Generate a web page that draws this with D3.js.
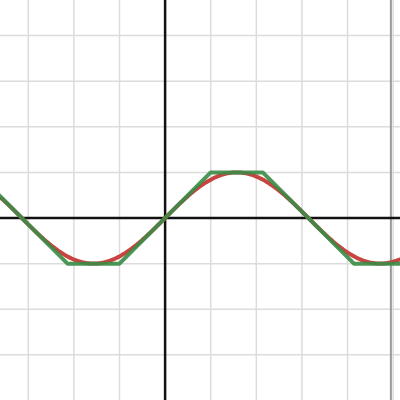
<!DOCTYPE html>
<html><head><meta charset="utf-8">
<script src="https://cdn.jsdelivr.net/npm/d3@7"></script>
<style>body{margin:0;background:#fff}</style>
</head><body>
<svg id="chart" width="400" height="400"></svg>
<script>
// view window (graph units)
var x_domain = [-3.62, 5.15];
var y_domain = [-3.99, 4.78];
var grid_ticks = [-3, -2, -1, 1, 2, 3, 4, 5];
var marker_x = [4.95];
// green piecewise approximation vertices
var approx_x = [-4.14, -2.14, -1, 1, 2.14, 4.14, 5.28];
var approx_y = [1, -1, -1, 1, 1, -1, -1];

var svg = d3.select("#chart");
var x = d3.scaleLinear().domain(x_domain).range([0, 400]);
var y = d3.scaleLinear().domain(y_domain).range([400, 0]);

svg.selectAll(".gx").data(grid_ticks).enter().append("line")
    .attr("x1", d => x(d)).attr("x2", d => x(d)).attr("y1", 0).attr("y2", 400)
    .attr("stroke", "#dcdcdc").attr("stroke-width", 1.5);
svg.selectAll(".gy").data(grid_ticks).enter().append("line")
    .attr("y1", d => y(d)).attr("y2", d => y(d)).attr("x1", 0).attr("x2", 400)
    .attr("stroke", "#dcdcdc").attr("stroke-width", 1.5);
svg.selectAll(".mk").data(marker_x).enter().append("line")
    .attr("x1", d => x(d)).attr("x2", d => x(d)).attr("y1", 0).attr("y2", 400)
    .attr("stroke", "#9a9a9a").attr("stroke-width", 2);

svg.append("line").attr("x1", 0).attr("x2", 400).attr("y1", y(0)).attr("y2", y(0))
    .attr("stroke", "#111").attr("stroke-width", 2.5);
svg.append("line").attr("y1", 0).attr("y2", 400).attr("x1", x(0)).attr("x2", x(0))
    .attr("stroke", "#111").attr("stroke-width", 2.5);

// red curve: y = sin(x)
var curve = d3.range(x_domain[0], x_domain[1] + 0.02, 0.02).map(t => [t, Math.sin(t)]);
var line = d3.line().x(d => x(d[0])).y(d => y(d[1]));
svg.append("path").datum(curve).attr("d", line)
    .attr("fill", "none").attr("stroke", "#c74440").attr("stroke-width", 4);

var approx = d3.zip(approx_x, approx_y);
svg.append("path").datum(approx).attr("d", line)
    .attr("fill", "none").attr("stroke", "#388c46").attr("stroke-width", 4)
    .attr("stroke-opacity", 0.9).attr("stroke-linejoin", "round");
</script>
</body></html>
